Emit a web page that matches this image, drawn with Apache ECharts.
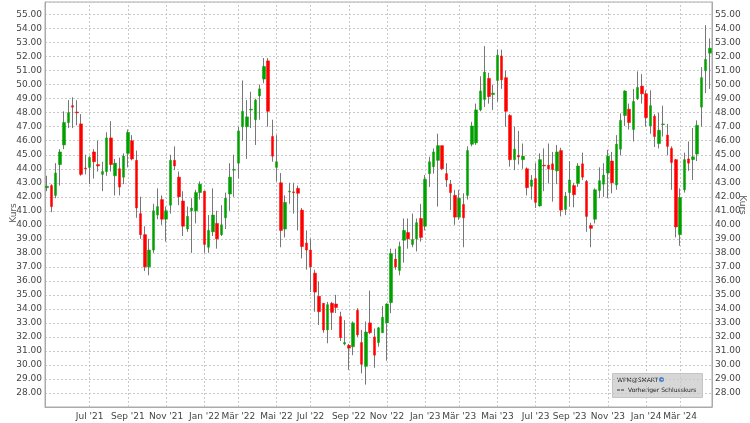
<!DOCTYPE html>
<html>
<head>
<meta charset="utf-8">
<script src="https://cdn.jsdelivr.net/npm/echarts@6/dist/echarts.min.js"></script>
<style>html,body{margin:0;padding:0;background:#fff}#chart{width:750px;height:423px}</style>
</head>
<body>
<div id="chart"></div>
<script>
const firstWeek = '2021-04-23';
const monthNames = ['Jan', 'Feb', 'Mär', 'Apr', 'Mai', 'Jun', 'Jul', 'Aug', 'Sep', 'Okt', 'Nov', 'Dez'];
const yTicks = [28, 55];

const opens = [42.65, 42.8, 42.1, 44.3, 45.7, 47.3, 48.5, 48.05, 47.2, 44.05, 44.1, 45.2, 44.3, 43.6, 43.8, 46.2, 43.5, 44.0, 43.4, 45.1,
  46.0, 44.6, 40.8, 39.3, 37.0, 38.2, 40.7, 41.8, 40.4, 41.4, 44.6, 43.4, 41.7, 39.7, 41.0, 41.0, 42.3, 42.4, 38.4, 39.5,
  40.1, 39.3, 40.5, 42.2, 43.9, 44.4, 47.0, 47.0, 48.2, 47.5, 49.2, 50.4, 51.7, 46.3, 44.1, 43.0, 39.7, 42.35, 42.35, 42.6,
  41.05, 38.7, 38.2, 36.55, 34.9, 34.4, 32.5, 34.4, 34.35, 33.45, 31.5, 31.4, 31.3, 33.9, 31.6, 29.9, 33.0, 32.0, 31.6, 32.3,
  33.0, 34.45, 37.55, 36.75, 38.9, 39.45, 38.6, 39.0, 40.45, 39.9, 43.65, 44.15, 44.6, 45.65, 43.65, 42.9, 42.1, 40.55, 41.45, 42.1,
  45.75, 45.85, 48.2, 48.95, 50.45, 49.3, 50.3, 52.05, 50.5, 47.8, 44.65, 44.95, 44.65, 44.0, 42.75, 43.3, 41.35, 44.25, 44.25, 44.35,
  43.85, 45.3, 41.1, 42.3, 42.8, 42.95, 44.35, 43.1, 39.95, 40.4, 42.45, 42.9, 43.7, 44.55, 42.85, 45.4, 47.8, 48.25, 46.8, 49.0,
  49.9, 49.35, 47.05, 47.75, 45.8, 47.15, 46.4, 45.45, 44.65, 39.3, 42.5, 44.7, 44.65, 45.05, 48.4, 51.0, 52.25];
const closes = [42.75, 41.3, 43.7, 45.2, 47.3, 48.0, 48.4, 48.0, 43.6, 44.0, 44.8, 44.5, 44.2, 43.8, 46.2, 44.3, 44.4, 42.7, 44.9, 46.6,
  44.7, 41.2, 39.3, 37.0, 38.2, 41.0, 41.3, 40.4, 41.0, 44.6, 44.2, 42.0, 39.9, 40.6, 41.2, 42.3, 42.9, 38.6, 39.6, 40.7,
  39.0, 40.0, 41.9, 43.4, 43.95, 46.7, 48.1, 47.7, 48.25, 48.9, 49.7, 51.3, 48.1, 44.9, 44.5, 39.6, 41.6, 42.4, 42.3, 42.25,
  38.45, 38.2, 37.0, 35.2, 33.8, 32.5, 34.3, 33.75, 34.1, 31.95, 31.6, 31.2, 33.0, 32.15, 30.05, 32.35, 32.3, 30.7, 32.65, 33.4,
  34.35, 37.95, 37.0, 38.45, 39.6, 39.0, 38.95, 40.15, 39.1, 43.25, 44.5, 45.2, 45.65, 44.0, 43.2, 42.3, 40.55, 41.9, 40.5, 45.3,
  47.05, 48.2, 49.55, 50.9, 49.15, 49.4, 52.1, 50.35, 48.1, 44.65, 45.4, 44.85, 44.9, 42.65, 43.2, 41.6, 44.65, 44.2, 44.0, 43.95,
  45.2, 41.05, 42.05, 43.2, 42.15, 44.2, 43.4, 40.6, 39.75, 42.5, 43.15, 43.55, 44.9, 43.0, 45.75, 47.45, 49.55, 47.3, 48.8, 49.8,
  49.35, 47.65, 48.5, 46.3, 46.75, 47.2, 45.6, 44.45, 39.85, 41.95, 44.65, 44.4, 44.85, 47.1, 50.5, 51.8, 52.6];
const lows = [42.4, 40.9, 41.9, 42.8, 45.4, 46.9, 46.9, 47.1, 43.5, 43.6, 42.9, 43.3, 43.8, 42.4, 43.5, 43.8, 42.1, 42.1, 42.9, 44.1,
  44.6, 40.5, 39.0, 36.7, 36.4, 38.0, 40.4, 40.0, 38.8, 40.8, 43.9, 41.4, 39.2, 39.5, 38.0, 40.1, 41.8, 38.0, 38.0, 39.2,
  38.3, 39.2, 39.7, 41.0, 42.0, 43.3, 46.0, 44.7, 46.9, 45.7, 47.5, 50.1, 47.0, 44.5, 43.1, 38.4, 39.1, 41.5, 40.8, 39.6,
  37.6, 36.8, 35.2, 33.8, 32.85, 32.3, 31.55, 32.5, 33.7, 31.7, 31.4, 29.65, 30.7, 32.0, 29.4, 28.6, 32.2, 29.8, 31.3, 32.3,
  30.3, 33.7, 36.8, 36.4, 37.3, 38.3, 38.4, 38.1, 38.8, 39.6, 42.7, 43.65, 41.3, 43.9, 42.7, 41.05, 40.0, 40.35, 38.4, 41.8,
  45.6, 45.7, 48.1, 48.4, 48.65, 48.2, 48.8, 49.7, 47.0, 44.15, 43.9, 44.3, 44.0, 42.1, 41.8, 41.2, 41.3, 42.4, 42.95, 41.65,
  42.9, 40.6, 40.7, 41.3, 41.25, 42.7, 43.2, 39.5, 38.4, 40.1, 41.9, 42.0, 41.9, 42.25, 42.5, 44.95, 47.05, 46.8, 45.95, 48.9,
  48.65, 47.0, 46.5, 45.55, 45.45, 46.3, 44.95, 42.5, 39.1, 38.5, 42.3, 43.85, 43.2, 44.55, 47.0, 49.4, 49.7];
const highs = [43.5, 42.9, 44.4, 45.4, 48.1, 48.9, 49.1, 48.9, 47.9, 45.0, 44.9, 45.4, 46.0, 44.5, 46.6, 47.4, 44.7, 44.8, 45.1, 46.8,
  46.4, 45.3, 42.0, 39.9, 39.0, 41.5, 42.6, 42.1, 41.3, 45.0, 45.6, 43.8, 42.4, 41.3, 41.9, 42.5, 43.1, 42.4, 40.7, 42.6,
  41.0, 41.4, 42.3, 44.4, 45.0, 47.0, 50.3, 48.9, 49.5, 49.0, 50.0, 51.9, 51.9, 47.5, 46.4, 43.7, 42.1, 43.0, 43.0, 42.8,
  41.2, 39.6, 39.0, 36.8, 35.95, 34.4, 34.5, 34.5, 35.0, 33.8, 33.2, 31.5, 33.1, 34.05, 32.5, 33.1, 35.3, 32.6, 32.7, 34.2,
  34.4, 38.3, 38.3, 38.8, 40.45, 40.45, 40.8, 40.45, 41.5, 43.55, 44.85, 45.45, 46.5, 45.65, 44.4, 43.2, 42.5, 42.5, 42.25, 45.6,
  47.35, 48.65, 50.6, 52.75, 50.85, 50.0, 52.5, 52.5, 51.0, 47.9, 47.0, 46.7, 45.8, 44.1, 43.55, 44.4, 45.1, 45.45, 45.8, 45.2,
  45.7, 45.5, 42.35, 44.55, 43.0, 44.4, 45.15, 43.2, 40.15, 42.6, 44.1, 44.4, 45.35, 45.2, 46.4, 47.95, 49.6, 48.65, 49.7, 50.95,
  50.75, 49.6, 49.6, 47.9, 48.0, 48.5, 47.2, 45.6, 44.7, 42.6, 45.15, 45.95, 46.9, 47.45, 51.25, 54.25, 53.3];

const dates = [];
const start = new Date(firstWeek + 'T12:00:00Z');
for (let i = 0; i < opens.length; i++) {
  dates.push(new Date(start.getTime() + i * 7 * 86400000));
}
const categories = dates.map((d) => d.toISOString().slice(0, 10));

// first week of Jan, Mär, Mai, ... gets a label + vertical grid line (skip the very first one)
function isMonthStart(idx) {
  const d = dates[idx];
  if (idx < 5 || d.getUTCMonth() % 2 !== 0) return false;
  return dates[idx - 1].getUTCMonth() !== d.getUTCMonth();
}
const monthStarts = categories.filter((c, i) => isMonthStart(i));

const wickData = categories.map((c, i) => [opens[i], closes[i], lows[i], highs[i]]);
const bodyData = categories.map((c, i) => [opens[i], closes[i], Math.min(opens[i], closes[i]), Math.max(opens[i], closes[i])]);

const gridLine = { show: true, lineStyle: { color: '#c8c8c8', type: [2, 2], width: 1 } };

function yAxis(pos) {
  return {
    type: 'value', position: pos, min: 27, max: 55.9, interval: 1,
    axisLine: { show: true, lineStyle: { color: '#aaa' } },
    axisTick: { show: false },
    axisLabel: {
      color: '#444', fontSize: 9, fontFamily: 'DejaVu Sans', margin: 3,
      formatter: (v) => (v >= yTicks[0] && v <= yTicks[1] ? v.toFixed(2) : '')
    },
    splitLine: pos === 'left' ? gridLine : { show: false }
  };
}

const myChart = echarts.init(document.getElementById('chart'));
let option = {
  animation: false,
  grid: { left: 45, right: 38, top: 2, bottom: 16, outerBoundsMode: 'none', containLabel: false, show: true, borderColor: '#aaa', borderWidth: 1 },
  xAxis: {
    type: 'category', data: categories, boundaryGap: true,
    axisLine: { lineStyle: { color: '#aaa' } },
    axisTick: { show: false },
    axisLabel: {
      interval: (idx) => isMonthStart(idx), hideOverlap: false,
      color: '#444', fontSize: 9, fontFamily: 'DejaVu Sans', margin: 5,
      formatter: (v) => {
        const d = new Date(v + 'T12:00:00Z');
        return monthNames[d.getUTCMonth()] + " '" + String(d.getUTCFullYear()).slice(2);
      }
    },
    splitLine: { show: false }
  },
  yAxis: [yAxis('left'), yAxis('right')],
  series: [
    {
      type: 'candlestick', data: wickData, barWidth: 1, z: 2,
      itemStyle: { color: '#777', color0: '#777', borderColor: '#777', borderColor0: '#777', borderWidth: 1 },
      markLine: {
        silent: true, symbol: 'none', label: { show: false }, z: 1,
        lineStyle: { color: '#c8c8c8', type: [2, 2], width: 1 },
        data: monthStarts.map((c) => ({ xAxis: c }))
      }
    },
    {
      type: 'candlestick', data: bodyData, barWidth: 3, z: 3,
      itemStyle: { color: '#00a000', color0: '#ff0000', borderColor: '#00a000', borderColor0: '#ff0000', borderWidth: 0.5 }
    }
  ],
  graphic: [
    { type: 'text', x: 14, y: 213, rotation: Math.PI / 2, style: { text: 'Kurs', fill: '#555', font: '9px "DejaVu Sans"', align: 'center', verticalAlign: 'middle' } },
    { type: 'text', x: 742, y: 205, rotation: -Math.PI / 2, style: { text: 'Kurs', fill: '#555', font: '9px "DejaVu Sans"', align: 'center', verticalAlign: 'middle' } },
    { type: 'rect', left: 612, top: 373, shape: { width: 90, height: 24 }, style: { fill: 'rgba(205,205,205,0.8)', stroke: '#c4c4c4' } },
    { type: 'text', left: 617, top: 377, style: { text: 'WPM@SMART', fill: '#222', font: '6px "DejaVu Sans"' } },
    { type: 'circle', left: 659, top: 377, shape: { r: 2.5 }, style: { fill: '#4a86c8' } },
    { type: 'line', shape: { x1: 617, y1: 390, x2: 625, y2: 390 }, style: { stroke: '#333', lineDash: [3, 1] } },
    { type: 'text', left: 628, top: 387, style: { text: 'Vorheriger Schlusskurs', fill: '#222', font: '6px "DejaVu Sans"' } }
  ]
};

option && myChart.setOption(option);
</script>
</body>
</html>
